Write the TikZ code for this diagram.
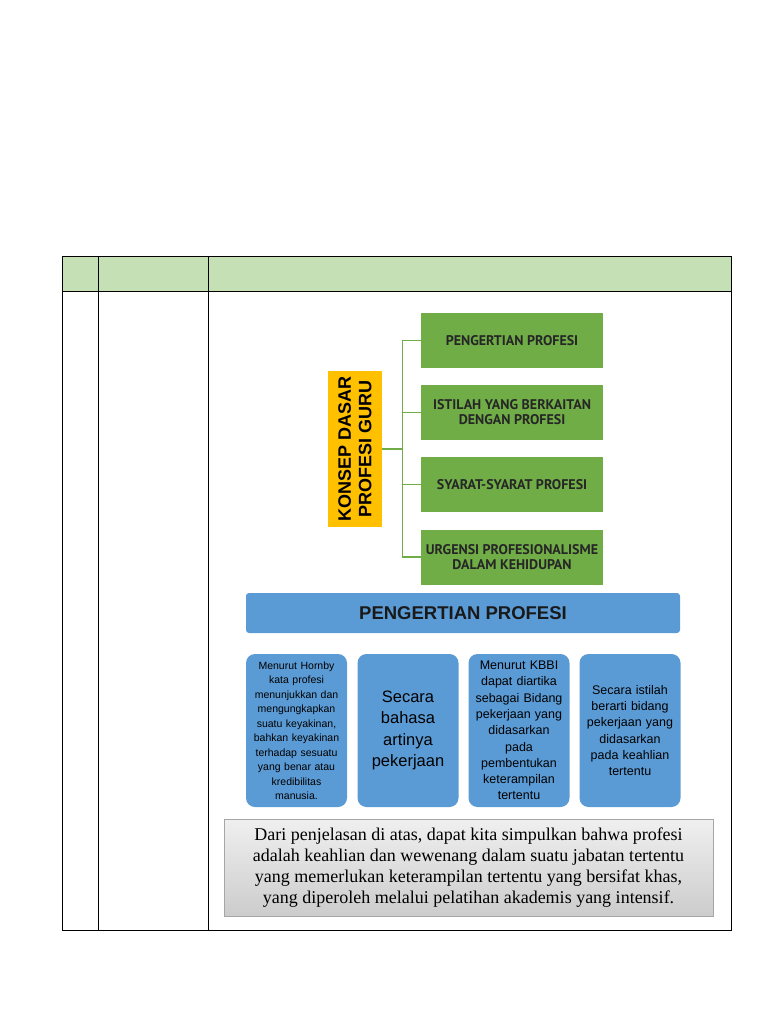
\documentclass[tikz,border=0pt]{standalone}
\usepackage{fontspec}
\setmainfont{Liberation Serif}
\setsansfont{Liberation Sans}
\newfontfamily\roundfont{PT Sans}
\usepackage{xcolor}
\usetikzlibrary{positioning,calc}

\definecolor{hdrgreen}{HTML}{C5E0B4}
\definecolor{itemgreen}{HTML}{70AD47}
\definecolor{titleyellow}{HTML}{FFC000}
\definecolor{cardblue}{HTML}{5B9BD5}

\begin{document}
\begin{tikzpicture}[x=1pt,y=-1pt,
    itembox/.style={fill=itemgreen,minimum width=182pt,minimum height=55pt,
      align=center,text=black!85,
      font=\roundfont\bfseries\fontsize{14}{15}\selectfont,inner sep=2pt},
    card/.style={fill=cardblue,rounded corners=9pt,minimum width=101pt,
      minimum height=153pt,align=center,inner sep=1pt,text width=97pt},
    branch/.style={draw=itemgreen,line width=1.4pt}]
\useasboundingbox (0,0) rectangle (768,1024);
% table frame
\fill[hdrgreen] (62,256) rectangle (731,291);
\draw[line width=0.8pt] (62,256) rectangle (731,930);
\draw[line width=0.8pt] (62,291) -- (731,291);
\foreach \x in {98,208}
  \draw[line width=0.8pt] (\x,256) -- (\x,930);
% concept map
\node[fill=titleyellow,rotate=90,minimum width=156pt,minimum height=54pt,
  align=center,inner sep=1pt,
  font=\sffamily\bfseries\fontsize{18}{20.5}\selectfont] (konsep) at (355,449)
  {KONSEP DASAR\\PROFESI GURU};
\node[itembox] (p1) at (512,340.5) {PENGERTIAN PROFESI};
\node[itembox] (p2) at (512,412.5) {ISTILAH YANG BERKAITAN\\DENGAN PROFESI};
\node[itembox] (p3) at (512,484.5) {SYARAT-SYARAT PROFESI};
\node[itembox] (p4) at (512,557) {URGENSI PROFESIONALISME\\DALAM KEHIDUPAN};
\draw[branch] (konsep.south) -- ++(20,0) coordinate (trunk);
\draw[branch] (trunk |- p1.west) -- (trunk |- p4.west);
\foreach \n in {p1,p2,p3,p4}
  \draw[branch] (trunk |- \n.west) -- (\n.west);
% pengertian
\node[fill=cardblue,rounded corners=3pt,minimum width=434pt,minimum height=40pt,
  text=black!90,font=\sffamily\bfseries\fontsize{18.5}{20}\selectfont]
  (judul) at (463,613) {PENGERTIAN PROFESI};
\node[card,font=\sffamily\fontsize{10.5}{14.5}\selectfont] (hornby) at (296.5,730.5)
  {Menurut Hornby\\kata profesi\\menunjukkan dan\\mengungkapkan\\suatu keyakinan,\\bahkan keyakinan\\terhadap sesuatu\\yang benar atau\\kredibilitas\\manusia.};
\node[card,font=\sffamily\fontsize{16.5}{21.5}\selectfont] (bahasa) at (408,730.5)
  {Secara\\bahasa\\artinya\\pekerjaan};
\node[card,font=\sffamily\fontsize{12.5}{16.3}\selectfont] (kbbi) at (519,730.5)
  {Menurut KBBI\\dapat diartika\\sebagai Bidang\\pekerjaan yang\\didasarkan\\pada\\pembentukan\\keterampilan\\tertentu};
\node[card,font=\sffamily\fontsize{12.5}{16.3}\selectfont] (istilah) at (630,730.5)
  {Secara istilah\\berarti bidang\\pekerjaan yang\\didasarkan\\pada keahlian\\tertentu};
% kesimpulan
\node[draw=gray!70,top color=gray!12,bottom color=gray!40,minimum width=489pt,
  minimum height=97pt,align=center,font=\fontsize{18}{21}\selectfont]
  (simpul) at (468.5,867.5)
  {Dari penjelasan di atas, dapat kita simpulkan bahwa profesi\\
   adalah keahlian dan wewenang dalam suatu jabatan tertentu\\
   yang memerlukan keterampilan tertentu yang bersifat khas,\\
   yang diperoleh melalui pelatihan akademis yang intensif.};
\end{tikzpicture}
\end{document}
